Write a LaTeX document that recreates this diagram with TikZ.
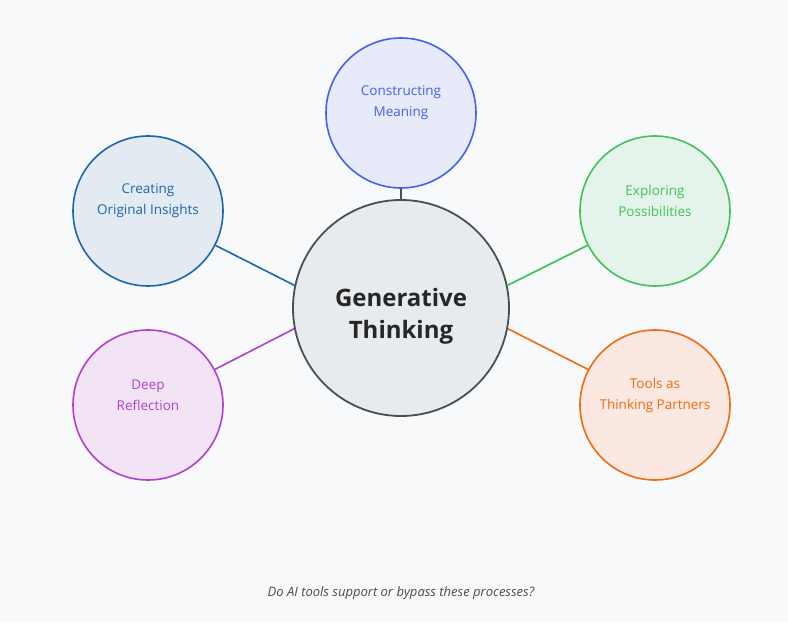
\documentclass[tikz,border=0pt]{standalone}
\usepackage{fontspec}
\setmainfont{Open Sans}
\begin{document}
\begin{tikzpicture}[x=1pt,y=1pt,
  sat/.style={circle,minimum size=150pt,inner sep=0pt,line width=1.6pt},
  lab/.style={align=center,font=\fontsize{13.5}{21}\selectfont},
  link/.style={line width=1.6pt}]
\definecolor{bg}{HTML}{F8F9FA}
\definecolor{cB}{HTML}{4361EE}\definecolor{fB}{HTML}{E6EAF9}
\definecolor{cD}{HTML}{1A66B0}\definecolor{fD}{HTML}{E3EAF2}
\definecolor{cG}{HTML}{3FC25A}\definecolor{fG}{HTML}{E5F4EA}
\definecolor{cP}{HTML}{B040D0}\definecolor{fP}{HTML}{F2E4F5}
\definecolor{cO}{HTML}{F06A10}\definecolor{fO}{HTML}{FBE8E0}
\definecolor{cC}{HTML}{4A4E55}\definecolor{fC}{HTML}{E8EBEE}
\fill[bg] (0,0) rectangle (788,622);
\useasboundingbox (0,0) rectangle (788,622);
\node[circle,minimum size=216pt,inner sep=0pt,line width=1.8pt,draw=cC,fill=fC] (c) at (401,314) {};
\node[align=center,font=\bfseries\fontsize{24}{32}\selectfont,text=black!85] (ct) at (401,306) {Generative\\Thinking};
\node[sat,draw=cB,fill=fB] (t) at (401,509) {};
\node[sat,draw=cD,fill=fD] (lt) at (148,411) {};
\node[sat,draw=cG,fill=fG] (rt) at (655,411) {};
\node[sat,draw=cP,fill=fP] (lb) at (148,217) {};
\node[sat,draw=cO,fill=fO] (rb) at (655,217) {};
\node[lab,text=cB] (tt) at (401,519) {Constructing\\Meaning};
\node[lab,text=cD] (ltt) at (148,421) {Creating\\Original Insights};
\node[lab,text=cG] (rtt) at (655,421) {Exploring\\Possibilities};
\node[lab,text=cP] (lbt) at (148,227) {Deep\\Reflection};
\node[lab,text=cO] (rbt) at (655,227) {Tools as\\Thinking Partners};
\draw[link,cC] (c.90) -- (t.270);
\draw[link,cD] (lt.-27) -- (c.168);
\draw[link,cP] (lb.28) -- (c.191);
\draw[link,cG] (rt.207) -- (c.12);
\draw[link,cO] (rb.152) -- (c.-11);
\node[font=\itshape\fontsize{13}{15}\selectfont,text=black!70] (q) at (401,29) {Do AI tools support or bypass these processes?};
\end{tikzpicture}
\end{document}
